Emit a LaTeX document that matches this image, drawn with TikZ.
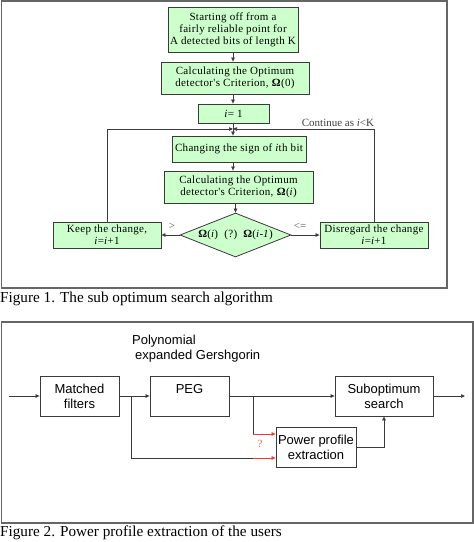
\documentclass[tikz,border=0pt]{standalone}
\usepackage{fontspec}
\setmainfont{Liberation Serif}
\newfontfamily\sansf{Liberation Sans}
\newfontfamily\boxf[LetterSpace=3]{Liberation Serif}
\usetikzlibrary{shapes.geometric,arrows.meta}
\definecolor{boxgreen}{HTML}{CCFFCC}
\definecolor{linegray}{HTML}{3A3A3A}
\definecolor{framegray}{HTML}{666666}
\definecolor{redline}{HTML}{F03A2A}
\definecolor{txtgray}{HTML}{555555}
\begin{document}
\begin{tikzpicture}[x=1pt,y=-1pt,
  gbox/.style={draw=linegray, fill=boxgreen, line width=0.8pt, inner sep=0pt, align=center, font=\boxf\fontsize{11}{12}\selectfont},
  wbox/.style={draw=linegray, fill=white, line width=0.8pt, inner sep=0pt, align=center, font=\sansf\fontsize{13}{15}\selectfont, minimum height=40pt},
  arr/.style={draw=linegray, line width=0.7pt, -{Triangle[length=4pt,width=3.5pt]}},
  ln/.style={draw=linegray, line width=0.7pt},
  rarr/.style={draw=redline, line width=0.7pt, -{Triangle[length=4pt,width=3.5pt]}},
  frm/.style={draw=framegray, line width=1.6pt},
  captext/.style={anchor=west, inner sep=0pt, font=\fontsize{15.2}{17}\selectfont},
  lbl/.style={inner sep=0pt, text=txtgray, font=\fontsize{11}{12}\selectfont},
  slbl/.style={anchor=west, inner sep=0pt, font=\sansf\fontsize{13}{15}\selectfont}
]
\useasboundingbox (0,0) rectangle (474,542);
\fill[white] (0,0) rectangle (474,542);
% ---------- Figure 1 ----------
\draw[frm] (1.5,1) rectangle (447,288);
\node[gbox, minimum width=130pt, minimum height=45pt] (b1) at (233,29.5)
  {Starting off from a\\fairly reliable point for\\A detected bits of length K};
\node[gbox, minimum width=148pt, minimum height=32pt] (b2) at (235,78)
  {Calculating the Optimum\\detector's Criterion, \textbf{Ω}(0)};
\node[gbox, minimum width=71pt, minimum height=19pt] (b3) at (233.5,113.5)
  {\textit{i}= 1};
\node[gbox, minimum width=134pt, minimum height=26pt] (b4) at (239,149)
  {Changing the sign of \textit{i}th bit};
\node[gbox, minimum width=149pt, minimum height=32pt] (b5) at (238.5,187)
  {Calculating the Optimum\\detector's Criterion, \textbf{Ω}(\textit{i})};
\node[gbox, shape=diamond, aspect=2.5, minimum width=111pt, minimum height=44pt] (dia) at (235.5,235)
  {\textbf{Ω}(\textit{i})\ \ (?)\ \ \textbf{Ω}(\textit{i}-\textit{1})};
\node[gbox, minimum width=108pt, minimum height=26pt] (keep) at (107,235)
  {Keep the change,\\\textit{i}=\textit{i}+1};
\node[gbox, minimum width=108pt, minimum height=26pt] (disc) at (374,235)
  {Disregard the change\\\textit{i}=\textit{i}+1};
\coordinate (col) at (233,0);
\coordinate (join) at (233,129);
\draw[arr] (b1.south -| col) -- (b2.north -| col);
\draw[arr] (b2.south -| col) -- (b3.north -| col);
\draw[arr] (b3.south -| col) -- (b4.north -| col);
\draw[arr] (b4.south -| col) -- (b5.north -| col);
\draw[arr] (b5.south -| dia.north) -- (dia.north);
\draw[arr] (keep.north) |- (join);
\draw[arr] (disc.north) |- (join);
\draw[arr] (dia.west) -- (keep.east);
\draw[arr] (dia.east) -- (disc.west);
\node[lbl, text=black!75] (cont) at (338,123) {Continue as \textit{i}<K};
\node[lbl] (gt) at (172,226) {>};
\node[lbl] (le) at (300,226) {<=};
\node[captext] (cap1) at (0,299) {Figure 1. The sub optimum search algorithm};
% ---------- Figure 2 ----------
\draw[frm] (1.5,322) rectangle (473,523);
\node[slbl] (pol) at (132,341) {Polynomial};
\node[slbl] (exg) at (135,356) {expanded Gershgorin};
\node[wbox, minimum width=79pt] (mf) at (79.5,396) {Matched\\filters};
\node[wbox, minimum width=79pt] (peg) at (189.5,396) {PEG\\[0pt]\mbox{}};
\node[wbox, minimum width=98pt] (sub) at (384,396) {Suboptimum\\search};
\node[wbox, minimum width=80pt] (ppe) at (316,447) {Power profile\\extraction};
\coordinate (in) at (9,396);
\coordinate (out) at (465,396);
\coordinate (br1) at (131,396);
\coordinate (br2) at (253,396);
\coordinate (r1) at (253,458);
\coordinate (r2) at (253,434);
\draw[arr] (in) -- (mf.west);
\draw[arr] (mf.east) -- (peg.west);
\draw[arr] (peg.east) -- (sub.west);
\draw[arr] (sub.east) -- (out);
\draw[ln] (br1) |- (r1);
\draw[ln] (br2) -- (r2);
\draw[rarr] (r2) -- (ppe.west |- r2);
\draw[rarr] (r1) -- (ppe.west |- r1);
\draw[arr] (ppe.east) -| (sub.south);
\node[inner sep=0pt, text=redline!80, font=\fontsize{11}{12}\selectfont] (q) at (260,444) {?};
\node[captext] (cap2) at (0,533) {Figure 2. Power profile extraction of the users};
\end{tikzpicture}
\end{document}
